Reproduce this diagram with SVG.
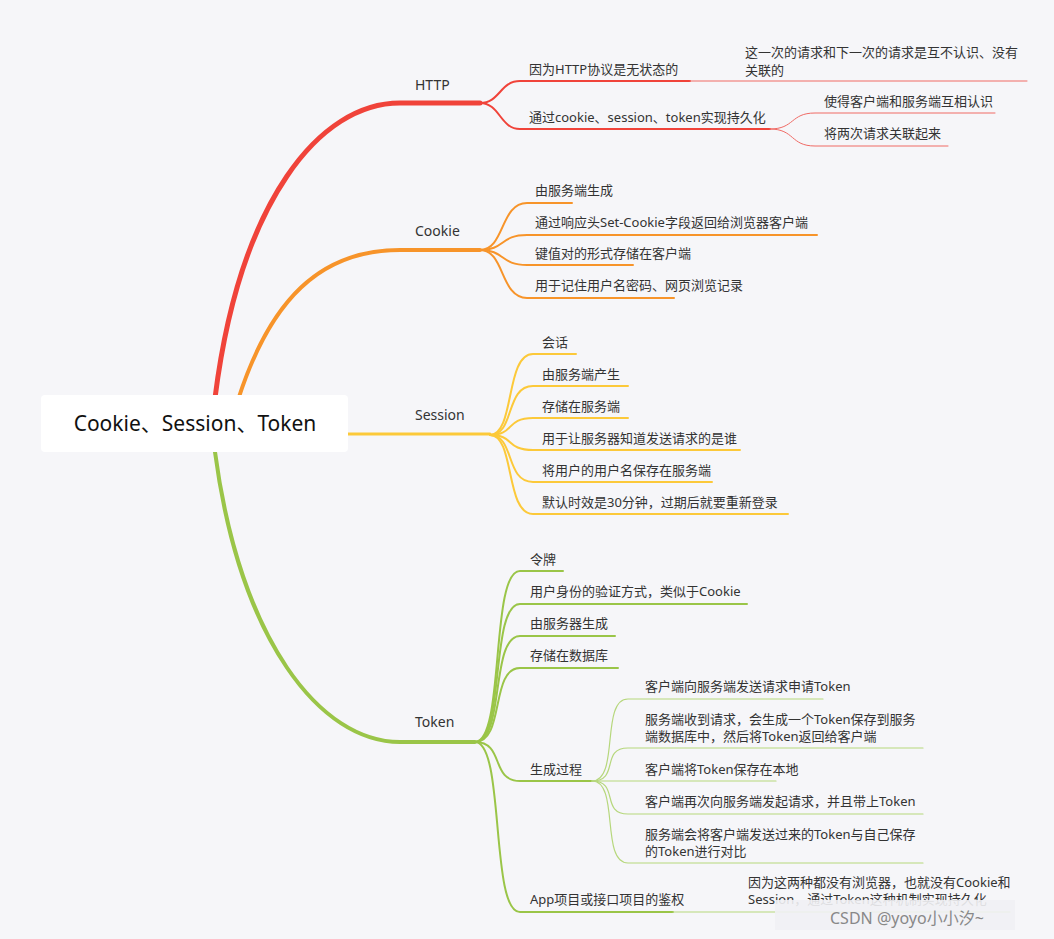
<svg xmlns="http://www.w3.org/2000/svg" width="1054" height="939" viewBox="0 0 1054 939">
<style>
text{font-family:"Noto Sans","Noto Sans CJK SC",sans-serif;font-size:13px;fill:#333}
.b{font-size:14px}
.r{font-size:21px;fill:#111}
path{fill:none;stroke-linecap:round}
.red{stroke:#f0433a}.or{stroke:#f7942a}.ye{stroke:#fcc93a}.gr{stroke:#9ac548}
.l2r{stroke:#f06a65}.l2g{stroke:#b6d77c}
</style>
<rect width="1054" height="939" fill="#f6f6f9"/>
<g id="connectors">
<path class="red" stroke-width="5" d="M215,398 C240,200 320,103 400,103 H480"/>
<path class="or" stroke-width="4" d="M238,400 C270,300 320,250 400,250 H480"/>
<path class="ye" stroke-width="3" d="M348,434 H490"/>
<path class="gr" stroke-width="4" d="M215,452 C240,640 320,742 400,742 H475"/>
<g class="red" stroke-width="2">
<path d="M480,103 C500,103 500,81 520,81 H690"/><path d="M480,103 C500,103 500,129 520,129 H770"/>
</g>
<g class="l2r" stroke-width="1">
<path d="M690,81 H1027"/>
<path d="M770,129 C795,129 790,113 815,113 H995"/><path d="M770,129 C795,129 790,146 815,146 H948"/>
</g>
<g class="or" stroke-width="2">
<path d="M480,250 C505,250 500,203 527,203 H572"/><path d="M480,250 C505,250 500,235 527,235 H817"/>
<path d="M480,250 C505,250 500,265 527,265 H633"/><path d="M480,250 C505,250 500,298 527,298 H674"/>
</g>
<g class="ye" stroke-width="2">
<path d="M490,435 C515,435 505,354 533,354 H576"/><path d="M490,435 C515,435 505,386 533,386 H628"/>
<path d="M490,435 C515,435 505,418 533,418 H628"/><path d="M490,435 C515,435 505,450 533,450 H740"/>
<path d="M490,435 C515,435 505,482 533,482 H712"/><path d="M490,435 C515,435 505,514 533,514 H788"/>
</g>
<g class="gr" stroke-width="2">
<path d="M475,742 C505,742 490,571 520,571 H563"/><path d="M475,742 C505,742 490,604 520,604 H747"/>
<path d="M475,742 C505,742 490,636 520,636 H615"/><path d="M475,742 C505,742 490,668 520,668 H618"/>
<path d="M475,742 C505,742 490,781 520,781 H592"/><path d="M475,742 C505,742 490,912 520,912 H673"/>
</g>
<g class="l2g" stroke-width="1.2">
<path d="M673,912 H1010"/>
<path d="M592,781 C620,781 600,699 628,699 H823"/><path d="M592,781 C620,781 600,748 628,748 H923"/>
<path d="M592,781 C620,781 600,781 628,781 H776"/><path d="M592,781 C620,781 600,814 628,814 H923"/>
<path d="M592,781 C620,781 600,863 628,863 H923"/>
</g>
</g>
<g id="root"><rect x="41" y="395" width="307" height="57" rx="4" fill="#fff"/><text class="r" x="195" y="431" text-anchor="middle">Cookie、Session、Token</text></g>
<g id="http"><text class="b" x="415" y="90">HTTP</text></g>
<g id="h1"><text x="529" y="74">因为HTTP协议是无状态的</text></g>
<g id="h11"><text x="745" y="57">这一次的请求和下一次的请求是互不认识、没有</text><text x="745" y="75">关联的</text></g>
<g id="h2"><text x="529" y="122">通过cookie、session、token实现持久化</text></g>
<g id="h21"><text x="824" y="106">使得客户端和服务端互相认识</text></g>
<g id="h22"><text x="824" y="138">将两次请求关联起来</text></g>
<g id="cookie"><text class="b" x="415" y="236">Cookie</text></g>
<g id="c1"><text x="535" y="195">由服务端生成</text></g>
<g id="c2"><text x="535" y="227">通过响应头Set-Cookie字段返回给浏览器客户端</text></g>
<g id="c3"><text x="535" y="258">键值对的形式存储在客户端</text></g>
<g id="c4"><text x="535" y="290">用于记住用户名密码、网页浏览记录</text></g>
<g id="session"><text class="b" x="415" y="420">Session</text></g>
<g id="s1"><text x="542" y="347">会话</text></g>
<g id="s2"><text x="542" y="379">由服务端产生</text></g>
<g id="s3"><text x="542" y="411">存储在服务端</text></g>
<g id="s4"><text x="542" y="443">用于让服务器知道发送请求的是谁</text></g>
<g id="s5"><text x="542" y="475">将用户的用户名保存在服务端</text></g>
<g id="s6"><text x="542" y="507">默认时效是30分钟，过期后就要重新登录</text></g>
<g id="token"><text class="b" x="415" y="727">Token</text></g>
<g id="t1"><text x="530" y="564">令牌</text></g>
<g id="t2"><text x="530" y="596">用户身份的验证方式，类似于Cookie</text></g>
<g id="t3"><text x="530" y="628">由服务器生成</text></g>
<g id="t4"><text x="530" y="660">存储在数据库</text></g>
<g id="t5"><text x="530" y="774">生成过程</text></g>
<g id="t51"><text x="645" y="691">客户端向服务端发送请求申请Token</text></g>
<g id="t52"><text x="645" y="724">服务端收到请求，会生成一个Token保存到服务</text><text x="645" y="741">端数据库中，然后将Token返回给客户端</text></g>
<g id="t53"><text x="645" y="774">客户端将Token保存在本地</text></g>
<g id="t54"><text x="645" y="806">客户端再次向服务端发起请求，并且带上Token</text></g>
<g id="t55"><text x="645" y="839">服务端会将客户端发送过来的Token与自己保存</text><text x="645" y="856">的Token进行对比</text></g>
<g id="t6"><text x="530" y="904">App项目或接口项目的鉴权</text></g>
<g id="t61"><text x="748" y="887">因为这两种都没有浏览器，也就没有Cookie和</text><text x="748" y="904">Session，通过Token这种机制实现持久化</text></g>
<rect x="775" y="900" width="240" height="30" fill="#f1f1f4" opacity="0.9"/>
<text x="830" y="924" style="font-size:16px;fill:#888">CSDN @yoyo小小汐~</text>
</svg>
